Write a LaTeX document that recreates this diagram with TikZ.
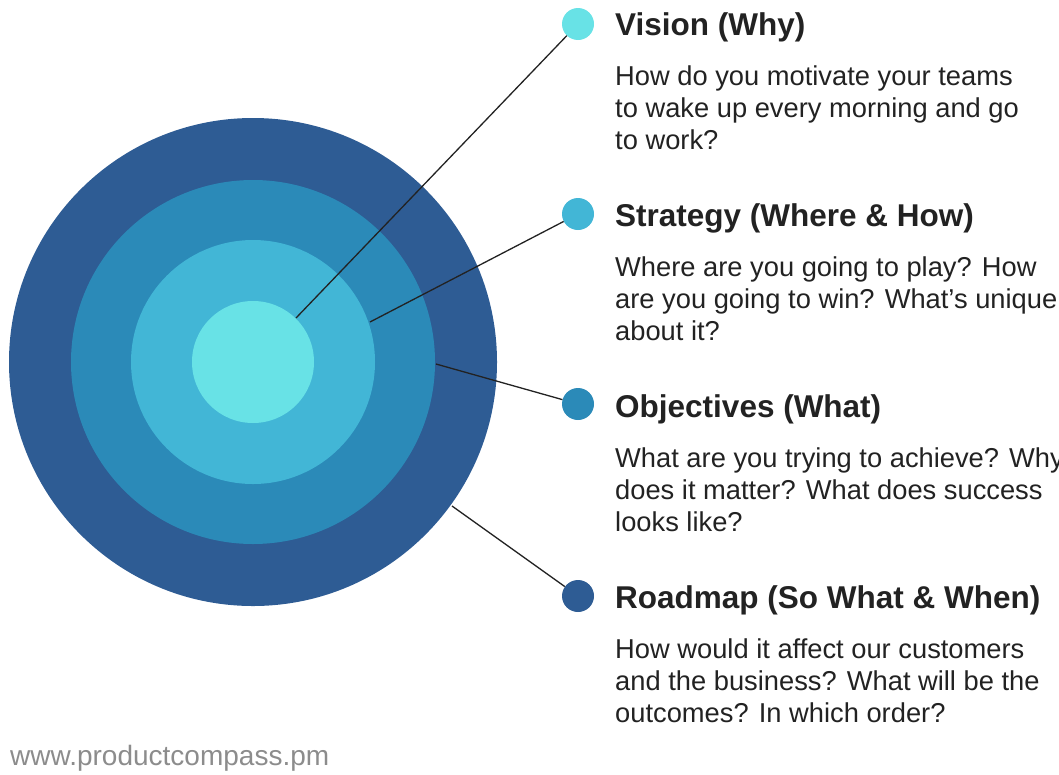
\documentclass[tikz,border=0pt]{standalone}
\usepackage{fontspec}
\setmainfont{Liberation Sans}
\definecolor{c1}{HTML}{2E5C94}
\definecolor{c2}{HTML}{2B8AB8}
\definecolor{c3}{HTML}{42B6D6}
\definecolor{c4}{HTML}{68E2E6}
\definecolor{txt}{HTML}{222222}
\tikzset{
  ttl/.style={anchor=base west,inner sep=0,text=txt,font=\fontsize{31.5}{32}\selectfont\bfseries},
  bdy/.style={anchor=base west,inner sep=0,text=txt,align=left,font=\fontsize{27.3}{32}\selectfont},
  dot/.style={circle,minimum size=32pt,inner sep=0},
  lnk/.style={draw=txt,line width=1.3pt}
}
\begin{document}
\begin{tikzpicture}[x=1pt,y=-1pt]
\useasboundingbox (0,0) rectangle (1059,774);
\fill[c1] (253,362) circle (244);
\fill[c2] (253,362) circle (182);
\fill[c3] (253,362) circle (122);
\fill[c4] (253,362) circle (61);
\coordinate (s1) at (296,318);
\coordinate (s2) at (370,322);
\coordinate (s3) at (436,364);
\coordinate (s4) at (452,506);
\node[dot,fill=c4] (d1) at (578,24) {};
\node[dot,fill=c3] (d2) at (578,214) {};
\node[dot,fill=c2] (d3) at (578,404) {};
\node[dot,fill=c1] (d4) at (578,596) {};
\draw[lnk] (s1) -- (d1);
\draw[lnk] (s2) -- (d2);
\draw[lnk] (s3) -- (d3);
\draw[lnk] (s4) -- (d4);
\node[ttl] (t1) at (615,35) {Vision (Why)};
\node[bdy] (b1) at (615,149) {How do you motivate your teams\\to wake up every morning and go\\to work?};
\node[ttl] (t2) at (615,226) {Strategy (Where \& How)};
\node[bdy] (b2) at (615,340) {Where are you going to play? How\\are you going to win? What’s unique\\about it?};
\node[ttl] (t3) at (615,417) {Objectives (What)};
\node[bdy] (b3) at (615,531) {What are you trying to achieve? Why\\does it matter? What does success\\looks like?};
\node[ttl] (t4) at (615,608) {Roadmap (So What \& When)};
\node[bdy] (b4) at (615,722) {How would it affect our customers\\and the business? What will be the\\outcomes? In which order?};
\node[anchor=base west,inner sep=0,text=black!45,font=\fontsize{28}{30}\selectfont] (f) at (10,765) {www.productcompass.pm};
\end{tikzpicture}
\end{document}
